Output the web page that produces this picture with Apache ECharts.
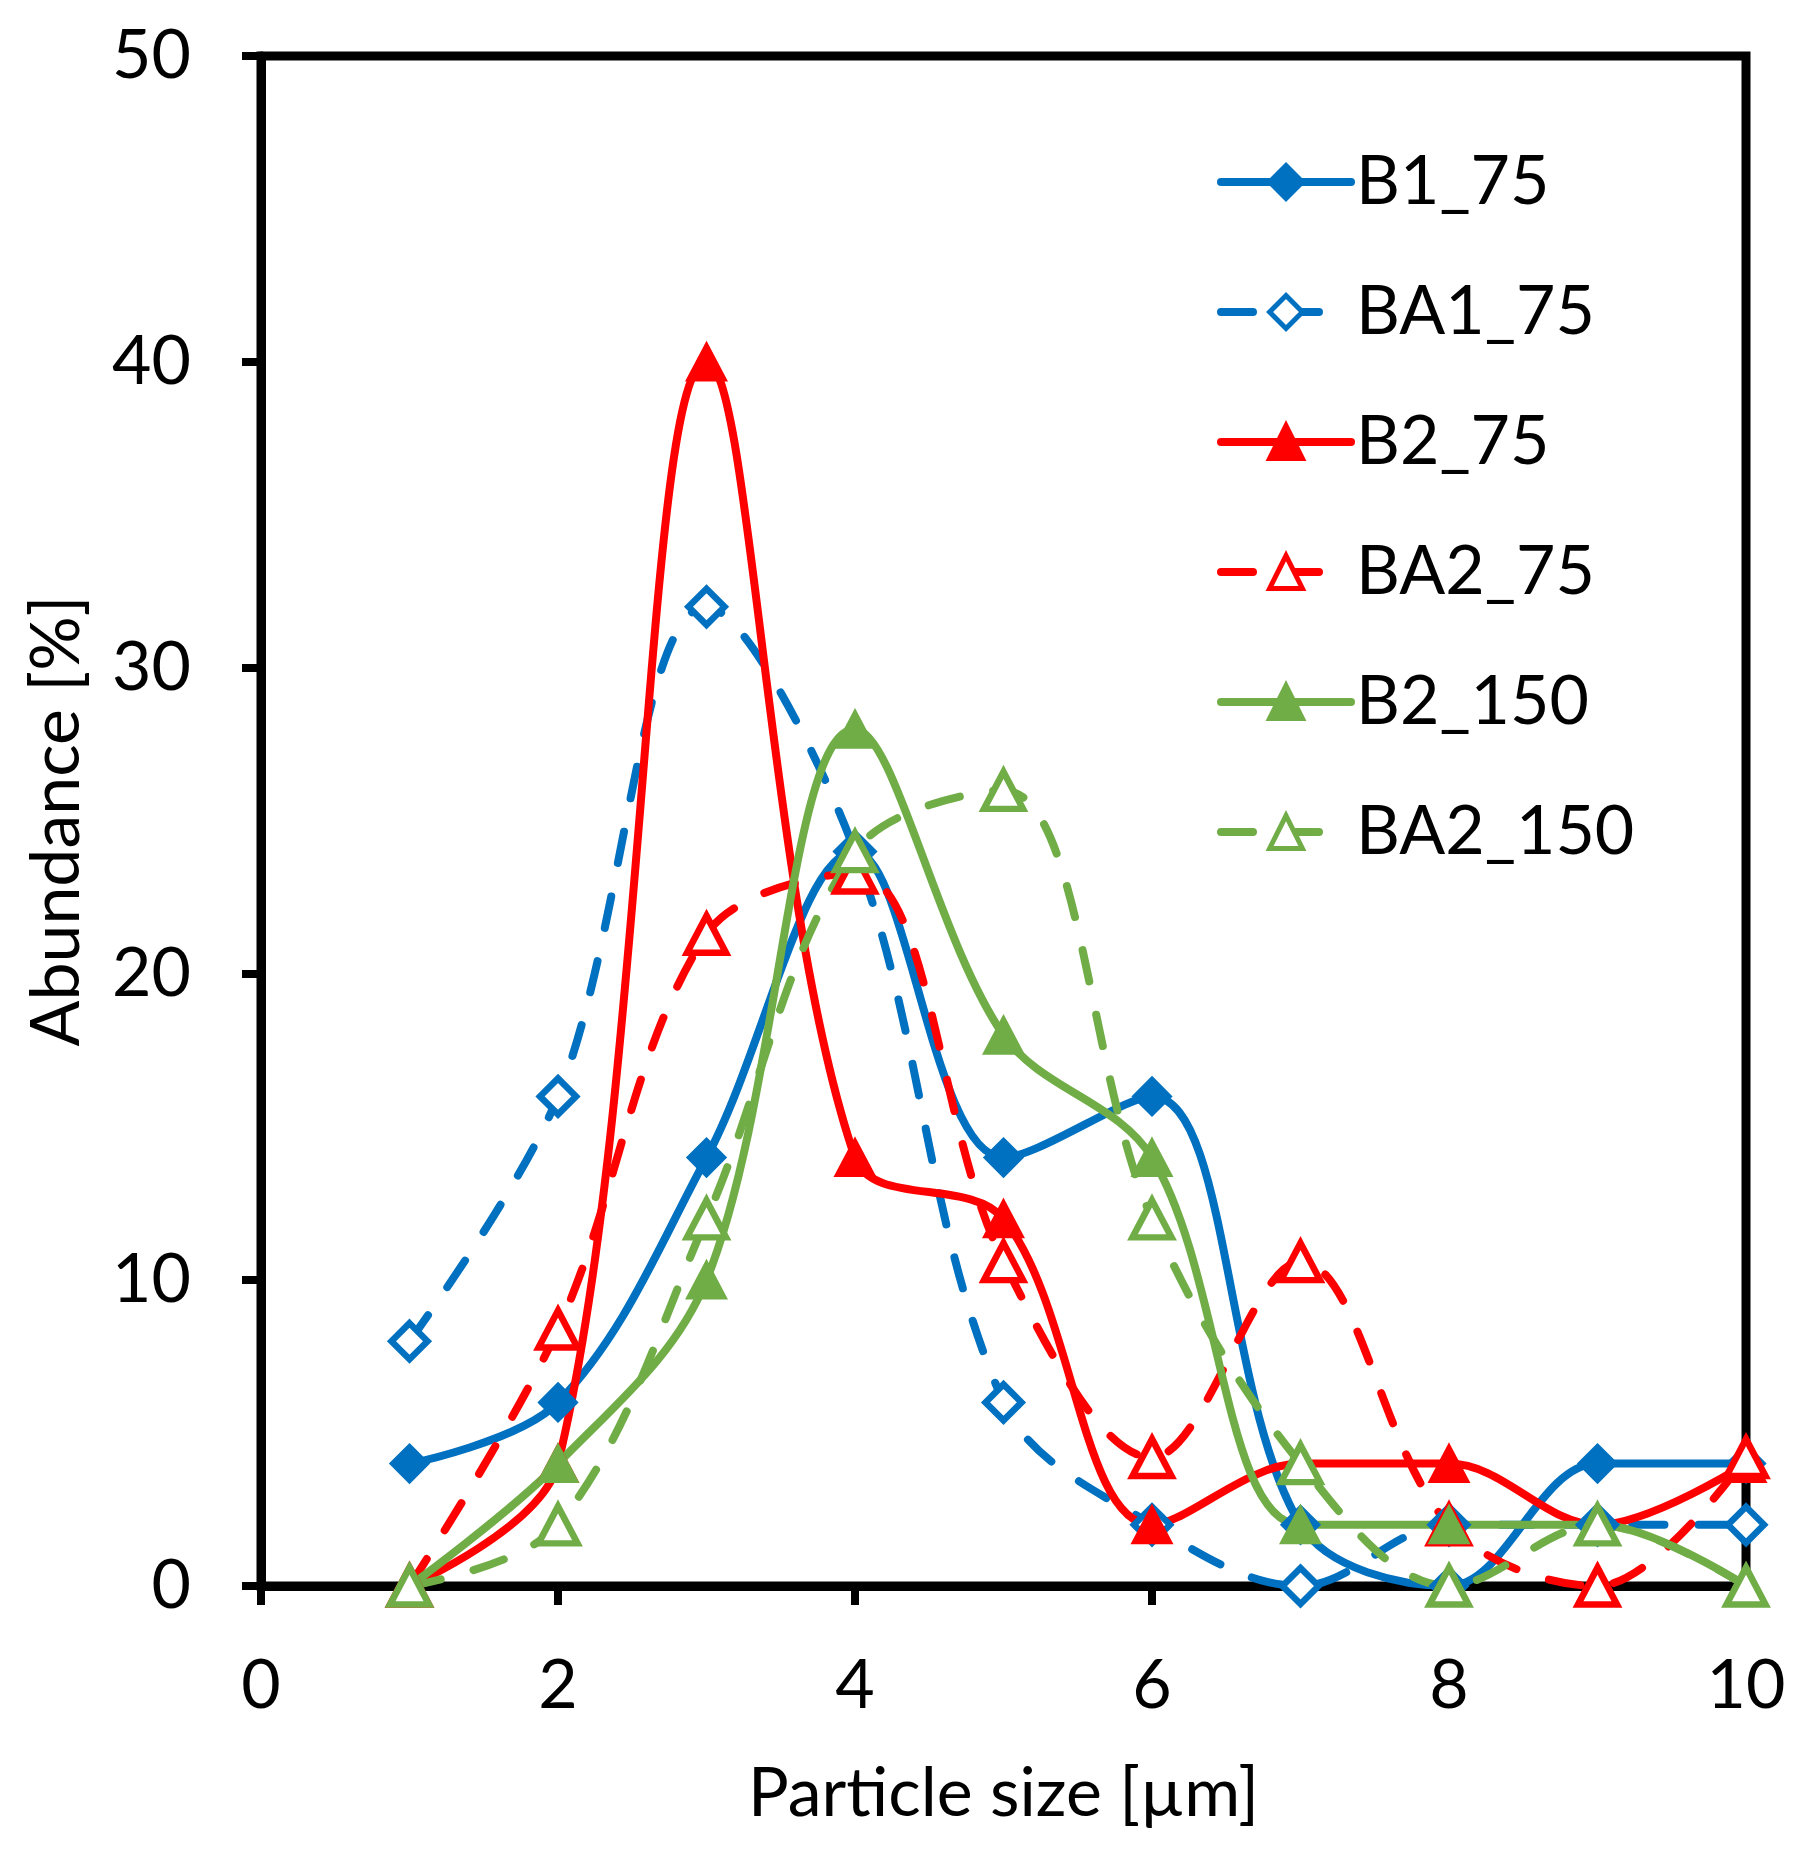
<!DOCTYPE html>
<html lang="en">
<head>
    <meta charset="UTF-8">
    <title>Particle size distribution</title>
    <script src="https://cdn.jsdelivr.net/npm/echarts@6/dist/echarts.min.js"></script>
    <style>
        html, body { margin: 0; padding: 0; background: #fff; }
    </style>
</head>
<body>
    <div id="main" style="width: 1809px;height:1853px;"></div>
    <script type="text/javascript">
        // particle sizes (x) and abundance per sample (%)
        var sizes = [1, 2, 3, 4, 5, 6, 7, 8, 9, 10];
        var b1_75 = [4, 6, 14, 24, 14, 16, 2, 0, 4, 4];
        var ba1_75 = [8, 16, 32, 24, 6, 2, 0, 2, 2, 2];
        var b2_75 = [0, 4, 40, 14, 12, 2, 4, 4, 2, 4];
        var ba2_75 = [0, 8.4, 21.3, 23.3, 10.6, 4.2, 10.6, 2, 0, 4.2];
        var b2_150 = [0, 4, 10, 28, 18, 14, 2, 2, 2, 0];
        var ba2_150 = [0, 2, 12, 24, 26, 12, 4, 0, 2, 0];

        var BLUE = '#0070C0', RED = '#FF0000', GREEN = '#70AD47';
        var FONT = 'Lato';
        var FS = 68;

        function pairs(ys) {
            var res = [];
            for (var i = 0; i < sizes.length; i++) {
                res.push([sizes[i], ys[i]]);
            }
            return res;
        }

        // open markers: white fill with coloured border (so the legend gets the same border)
        function mkSeries(name, ys, color, dashed, symbol, open) {
            var size;
            if (symbol === 'triangle') size = open ? [39, 37] : [38, 36];
            else size = open ? 36 : 37;
            return {
                name: name,
                type: 'line',
                data: pairs(ys),
                smooth: 0.35,
                clip: false,
                symbol: symbol,
                symbolSize: size,
                lineStyle: {
                    color: color,
                    width: 8,
                    type: dashed ? [32, 34] : 'solid',
                    cap: 'round'
                },
                itemStyle: {
                    color: open ? '#fff' : color,
                    borderColor: color,
                    borderWidth: open ? 6.5 : 3
                },
                emphasis: { disabled: true }
            };
        }

        var myChart = echarts.init(document.getElementById('main'));
        var option = {
            backgroundColor: '#fff',
            animation: false,
            textStyle: { fontFamily: FONT },
            grid: {
                left: 261,
                right: 63,
                top: 56,
                bottom: 267,
                show: true,
                borderColor: '#000',
                borderWidth: 9,
                backgroundColor: 'transparent'
            },
            legend: {
                orient: 'vertical',
                left: 1212,
                top: 143,
                itemWidth: 130,
                itemHeight: 41,
                itemGap: 62,
                lineStyle: { width: 8 },
                itemStyle: { borderWidth: 5 },
                textStyle: { fontSize: FS, color: '#000', fontFamily: FONT },
                data: ['B1_75', 'BA1_75', 'B2_75', 'BA2_75', 'B2_150', 'BA2_150']
            },
            xAxis: {
                type: 'value',
                min: 0,
                max: 10,
                interval: 2,
                name: 'Particle size [µm]',
                nameLocation: 'middle',
                nameGap: 174,
                nameTextStyle: { fontSize: FS, color: '#000', fontFamily: FONT },
                axisLine: { show: true, onZero: false, lineStyle: { color: '#000', width: 9 } },
                axisTick: { show: true, length: 19, lineStyle: { color: '#000', width: 8 } },
                axisLabel: { fontSize: FS, color: '#000', margin: 66, fontFamily: FONT },
                splitLine: { show: false }
            },
            yAxis: {
                type: 'value',
                min: 0,
                max: 50,
                interval: 10,
                name: 'Abundance [%]',
                nameLocation: 'middle',
                nameGap: 170,
                nameRotate: 90,
                nameTextStyle: { fontSize: FS, color: '#000', fontFamily: FONT },
                axisLine: { show: true, lineStyle: { color: '#000', width: 9 } },
                axisTick: { show: true, length: 19, lineStyle: { color: '#000', width: 8 } },
                axisLabel: { fontSize: FS, color: '#000', margin: 70, fontFamily: FONT },
                splitLine: { show: false }
            },
            series: [
                mkSeries('B1_75', b1_75, BLUE, false, 'diamond', false),
                mkSeries('BA1_75', ba1_75, BLUE, true, 'diamond', true),
                mkSeries('B2_75', b2_75, RED, false, 'triangle', false),
                mkSeries('BA2_75', ba2_75, RED, true, 'triangle', true),
                mkSeries('B2_150', b2_150, GREEN, false, 'triangle', false),
                mkSeries('BA2_150', ba2_150, GREEN, true, 'triangle', true)
            ]
        };
        myChart.setOption(option);
    </script>
</body>
</html>
